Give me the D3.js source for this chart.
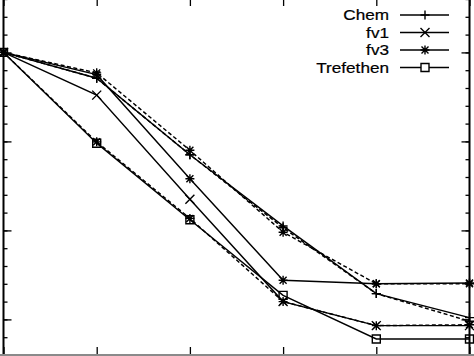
<!DOCTYPE html>
<html><head><meta charset="utf-8">
<script src="https://cdn.jsdelivr.net/npm/d3@7"></script>
<style>html,body{margin:0;padding:0;background:#fff;overflow:hidden}</style>
</head><body>
<svg id="c" width="474" height="356"></svg>
<script>
// refinement levels (x categories)
const levels = [0, 1, 2, 3, 4, 5];
// y tick values (log10 of error)
const yMajorTicks = [0, -1, -2, -3];
const legendNames = ["Chem", "fv1", "fv3", "Trefethen"];

// solid series (legend)
const chem      = [0, -0.29, -1.15, -1.95, -2.71, -2.98];
const fv1       = [0, -0.48, -1.65, -2.80, -3.07, -3.07];
const fv3       = [0, -0.25, -1.42, -2.56, -2.60, -2.59];
const trefethen = [0, -1.02, -1.88, -2.73, -3.22, -3.22];
// dashed companion series
const chemB      = [0, -0.29, -1.15, -1.97, -2.71, -3.02];
const fv3B       = [0, -0.23, -1.10, -2.02, -2.60, -2.60];
const trefethenB = [0, -1.005, -1.865, -2.80, -3.07, -3.06];

const L = 3.5, R = 469.5, T = -1, B = 355;
const x = d3.scaleLinear().domain([0, 5]).range([L, R]);
const y = d3.scaleLinear().domain([-3.4, 0.6]).range([B, T]);
const svg = d3.select("#c");

// minor y ticks
const minor = d3.range(-34, 7).map(v => v / 10).filter(v => Math.abs(v * 5 - Math.round(v * 5)) < 1e-9);
function axisGroup(ax, tx, ty) {
  const g = svg.append("g").attr("transform", `translate(${tx},${ty})`).call(ax);
  g.select(".domain").remove();
  g.selectAll("line").attr("stroke", "#000").attr("stroke-width", 1.3);
  g.selectAll("text").remove();
  return g;
}
axisGroup(d3.axisRight(y).tickValues(minor).tickSize(4).tickFormat(""), L, 0);
axisGroup(d3.axisRight(y).tickValues(yMajorTicks).tickSize(8).tickFormat(""), L, 0);
axisGroup(d3.axisLeft(y).tickValues(minor).tickSize(4).tickFormat(""), R, 0);
axisGroup(d3.axisLeft(y).tickValues(yMajorTicks).tickSize(8).tickFormat(""), R, 0);
axisGroup(d3.axisTop(x).tickValues(levels).tickSize(8).tickFormat(""), 0, B);
axisGroup(d3.axisBottom(x).tickValues(levels).tickSize(7).tickFormat(""), 0, T);

// border
svg.append("line").attr("x1", L).attr("x2", L).attr("y1", T).attr("y2", B).attr("stroke", "#000").attr("stroke-width", 2);
svg.append("line").attr("x1", R).attr("x2", R).attr("y1", T).attr("y2", B).attr("stroke", "#000").attr("stroke-width", 2);
svg.append("line").attr("x1", L).attr("x2", R).attr("y1", T).attr("y2", T).attr("stroke", "#000").attr("stroke-width", 2);
svg.append("line").attr("x1", 0).attr("x2", 474).attr("y1", 355).attr("y2", 355).attr("stroke", "#8a8a8a").attr("stroke-width", 2);

function markerPath(type, cx, cy) {
  const s = 4.5;
  const p = d3.path();
  if (type === "plus" || type === "star") {
    p.moveTo(cx - s, cy); p.lineTo(cx + s, cy);
    p.moveTo(cx, cy - s); p.lineTo(cx, cy + s);
  }
  if (type === "cross" || type === "star") {
    const t = type === "star" ? 3.5 : s;
    p.moveTo(cx - t, cy - t); p.lineTo(cx + t, cy + t);
    p.moveTo(cx - t, cy + t); p.lineTo(cx + t, cy - t);
  }
  if (type === "square") {
    p.rect(cx - 4, cy - 4, 8, 8);
  }
  return p.toString();
}

const line = d3.line().x((d, i) => x(levels[i])).y(d => y(d));
const series = [
  {vals: chemB, dash: "4,2.5", marker: "plus"},
  {vals: fv3B, dash: "4,2.5", marker: "star"},
  {vals: trefethenB, dash: "4,2.5", marker: "star"},
  {vals: chem, dash: null, marker: "plus"},
  {vals: fv1, dash: null, marker: "cross"},
  {vals: fv3, dash: null, marker: "star"},
  {vals: trefethen, dash: null, marker: "square"}
];
series.forEach(s => {
  svg.append("path").attr("d", line(s.vals)).attr("fill", "none")
    .attr("stroke", "#000").attr("stroke-width", 1.45)
    .attr("stroke-dasharray", s.dash);
  svg.append("g").selectAll("path").data(s.vals).join("path")
    .attr("d", (d, i) => markerPath(s.marker, x(levels[i]), y(d)))
    .attr("fill", "none").attr("stroke", "#000").attr("stroke-width", 1.4);
});

// legend
const legMarkers = ["plus", "cross", "star", "square"];
const legY = [15, 32.5, 50, 67.5];
legendNames.forEach((name, i) => {
  const g = svg.append("g");
  g.append("text").attr("transform", `translate(389,${legY[i] + 5}) scale(1.2,1)`)
    .attr("text-anchor", "end").attr("font-family", "Liberation Sans, Arial, sans-serif")
    .attr("font-size", 14.3).attr("fill", "#000").attr("stroke", "#000").attr("stroke-width", 0.2)
    .text(name);
  g.append("line").attr("x1", 400).attr("x2", 449).attr("y1", legY[i]).attr("y2", legY[i])
    .attr("stroke", "#000").attr("stroke-width", 1.4);
  g.append("path").attr("d", markerPath(legMarkers[i], 425, legY[i]))
    .attr("fill", legMarkers[i] === "square" ? "#fff" : "none").attr("stroke", "#000").attr("stroke-width", 1.4);
});
</script>
</body></html>
